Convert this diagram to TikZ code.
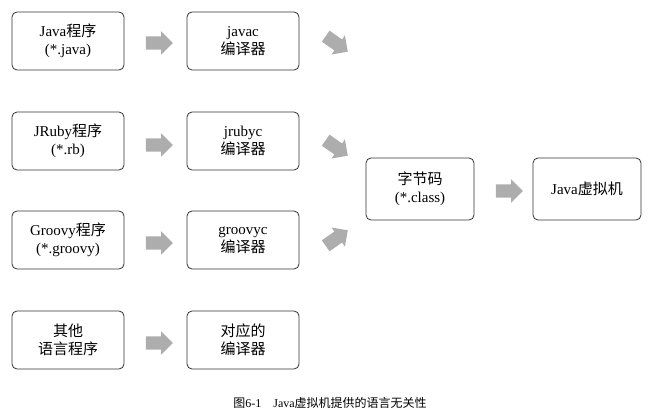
\documentclass[tikz,border=0pt]{standalone}
\usepackage{fontspec}
\setmainfont{Liberation Serif}
\newfontfamily\cjk{Noto Sans CJK SC}
\usetikzlibrary{shapes.arrows}
\begin{document}
\begin{tikzpicture}[x=1pt,y=-1pt,
  box/.style={draw=black!80,rounded corners=5pt,line width=0.8pt,minimum width=112pt,minimum height=58pt,align=center,font=\fontsize{15}{18}\selectfont,inner sep=2pt},
  garrow/.style={single arrow,fill=black!32,draw=none,minimum height=27pt,single arrow head extend=5pt,inner sep=0pt,single arrow tip angle=90}]
\useasboundingbox (0,0) rectangle (657,420);
\newcommand{\ashaft}{\rule{11pt}{0pt}\rule{0pt}{13pt}}
\node[box] (a1) at (68,41) {Java{\cjk 程序}\\(*.java)};
\node[box] (a2) at (68,141) {JRuby{\cjk 程序}\\(*.rb)};
\node[box] (a3) at (68,240) {Groovy{\cjk 程序}\\(*.groovy)};
\node[box] (a4) at (68,340) {{\cjk 其他}\\{\cjk 语言程序}};
\node[box] (b1) at (243,41) {javac\\{\cjk 编译器}};
\node[box] (b2) at (243,141) {jrubyc\\{\cjk 编译器}};
\node[box] (b3) at (243,240) {groovyc\\{\cjk 编译器}};
\node[box] (b4) at (243,340) {{\cjk 对应的}\\{\cjk 编译器}};
\node[box,minimum width=108pt,minimum height=62pt] (c) at (420,189) {{\cjk 字节码}\\(*.class)};
\node[box,minimum width=108pt,minimum height=62pt] (d) at (587,189) {Java{\cjk 虚拟机}};
\node[garrow] (h1) at (156,43) {\ashaft};
\node[garrow] (h2) at (156,145) {\ashaft};
\node[garrow] (h3) at (156,243) {\ashaft};
\node[garrow] (h4) at (156,343) {\ashaft};
\node[garrow,rotate=-35] (g1) at (334,42) {\ashaft};
\node[garrow,rotate=-35] (g2) at (334,146) {\ashaft};
\node[garrow,rotate=35] (g3) at (334,240) {\ashaft};
\node[garrow] (h5) at (506,191) {\ashaft};
\node[font=\fontsize{12}{14}\selectfont] (cap) at (330,403) {{\cjk 图}6-1\quad Java{\cjk 虚拟机提供的语言无关性}};
\end{tikzpicture}
\end{document}
